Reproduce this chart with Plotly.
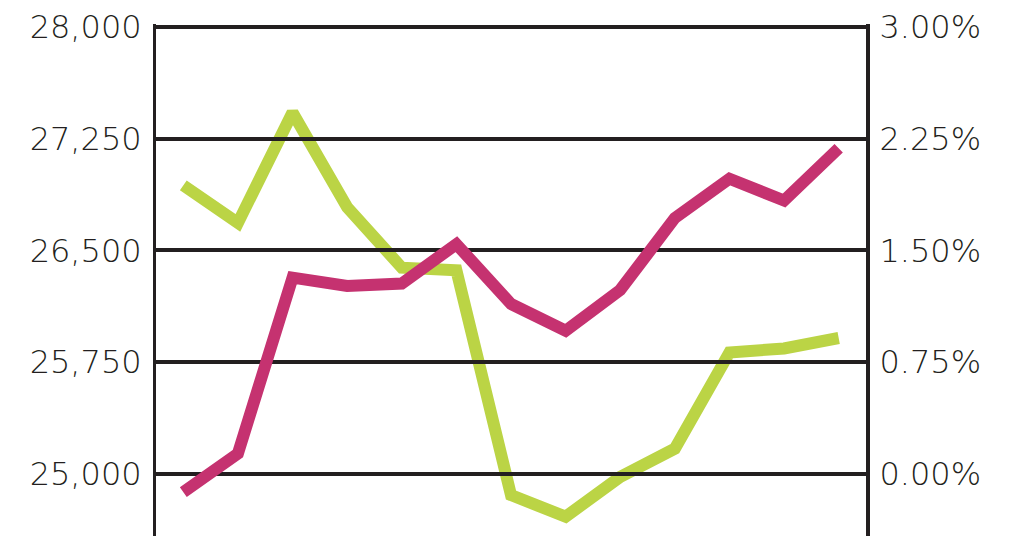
import plotly.graph_objects as go

# ---- data ----
periods = list(range(13))
magenta_values = [24875, 25134, 26317, 26261, 26277, 26542, 26140, 25960, 26234, 26718, 26982, 26835, 27187]
green_pct = [1.937, 1.685, 2.427, 1.79, 1.384, 1.366, -0.145, -0.29, -0.023, 0.167, 0.814, 0.841, 0.911]

left_ticks = [25000, 25750, 26500, 27250, 28000]
left_labels = ["25,000", "25,750", "26,500", "27,250", "28,000"]
right_ticks = [0.0, 0.75, 1.5, 2.25, 3.0]
right_labels = ["0.00%", "0.75%", "1.50%", "2.25%", "3.00%"]

INK = "#231f20"
GREEN = "rgb(187,212,69)"
MAGENTA = "rgb(197,50,112)"
FONT = dict(family="DejaVu Sans", size=32, color=INK, weight=200)

fig = go.Figure()
# green series: lower subplot (drawn beneath the gridlines)
fig.add_trace(go.Scatter(x=periods, y=green_pct, mode="lines",
                         line=dict(color=GREEN, width=12),
                         xaxis="x", yaxis="y", hoverinfo="skip"))
# magenta series: upper subplot (drawn above the gridlines)
fig.add_trace(go.Scatter(x=periods, y=magenta_values, mode="lines",
                         line=dict(color=MAGENTA, width=12),
                         xaxis="x2", yaxis="y2", hoverinfo="skip"))

fig.update_layout(
    width=1016, height=528,
    margin=dict(l=148, r=158, t=14, b=0),
    paper_bgcolor="white", plot_bgcolor="rgba(0,0,0,0)",
    showlegend=False,
    xaxis=dict(domain=[0, 1], range=[-0.5, 12.5], showgrid=False, zeroline=False,
               showticklabels=False, ticks="", showline=False, anchor="y"),
    yaxis=dict(range=[-0.42, 3.022], side="right", anchor="x",
               tickvals=right_ticks, ticktext=right_labels,
               showgrid=False, zeroline=False, ticks="",
               showline=True, linecolor=INK, linewidth=4,
               tickfont=FONT, ticklabelstandoff=3, ticklabeloverflow="allow"),
    xaxis2=dict(domain=[0, 1], range=[-0.5, 12.5], showgrid=False, zeroline=False,
                showticklabels=False, ticks="", showline=False, anchor="y2"),
    yaxis2=dict(range=[24580, 28022], side="left", anchor="x2",
                tickvals=left_ticks, ticktext=left_labels,
                showgrid=True, gridcolor=INK, gridwidth=4, zeroline=False, ticks="",
                showline=True, linecolor=INK, linewidth=3,
                tickfont=FONT, ticklabelstandoff=5, ticklabeloverflow="allow"),
)

fig.write_html("out.html")
